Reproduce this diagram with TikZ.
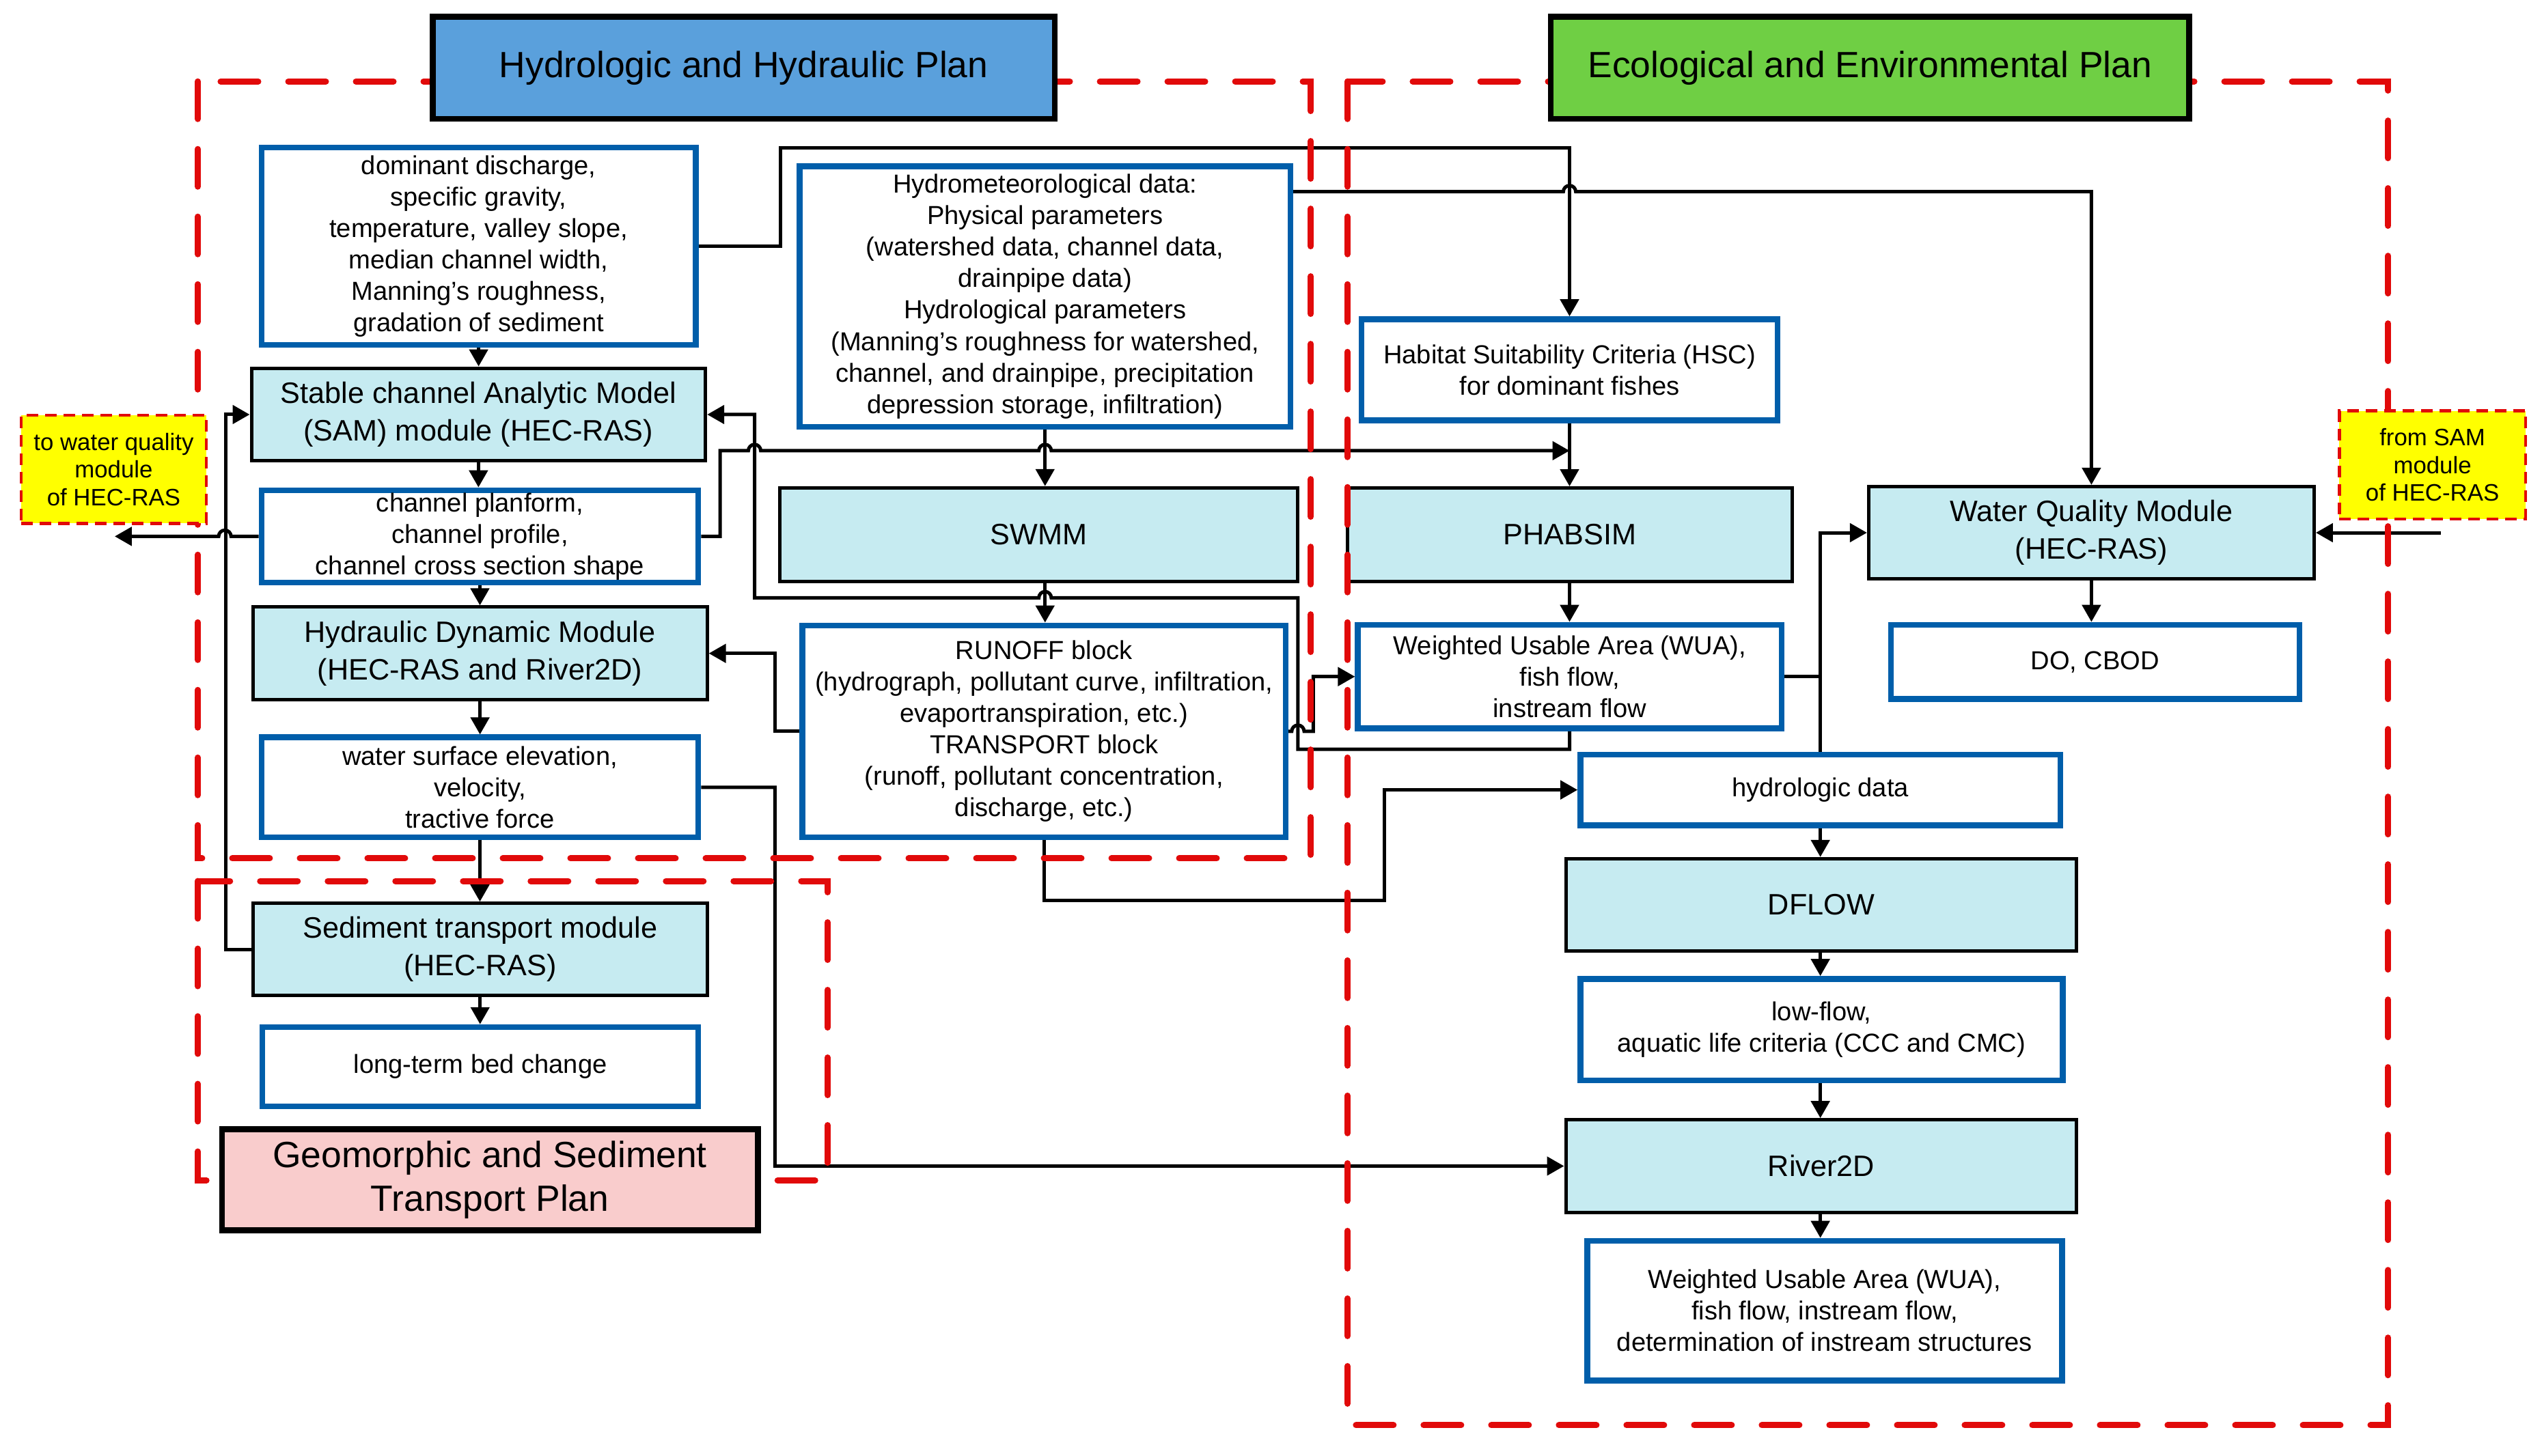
\documentclass[tikz,border=0pt]{standalone}
\usepackage{fontspec}
\setmainfont{Liberation Sans}
\usetikzlibrary{arrows.meta}
\definecolor{bblue}{HTML}{005EAA}
\definecolor{cyanf}{HTML}{C6EBF1}
\definecolor{tblue}{HTML}{5AA0DC}
\definecolor{tgreen}{HTML}{6FCF44}
\definecolor{tpink}{HTML}{F9CCCC}
\definecolor{redd}{HTML}{E10A0A}
\definecolor{ylw}{HTML}{FFFF00}
\newcommand\mybox[7]{%
  \pgfmathsetmacro\bw{(#5-#3)*0.02385}%
  \pgfmathsetmacro\bh{(#6-#4)*0.02385}%
  \node[#2, minimum width=\bw cm, minimum height=\bh cm] (#1) at ({(#3+#5)/2},{(#4+#6)/2}) {#7};}
\begin{document}
\begin{tikzpicture}[x=0.02385cm,y=-0.02385cm,
  wbox/.style={draw=bblue, line width=0.085cm, fill=white, inner sep=0pt, align=center, font=\fontsize{10.85}{13.1}\selectfont},
  cbox/.style={draw=black, line width=0.05cm, fill=cyanf, inner sep=0pt, align=center, font=\fontsize{12.3}{15.8}\selectfont},
  tbox/.style={draw=black, line width=0.085cm, inner sep=0pt, align=center, font=\fontsize{15.2}{18.3}\selectfont},
  ybox/.style={draw=redd, line width=0.045cm, dash pattern=on 0.17cm off 0.1cm, fill=ylw, inner sep=0pt, align=center, font=\fontsize{9.9}{11.5}\selectfont},
  region/.style={draw=redd, line width=0.09cm, dash pattern=on 0.55cm off 0.44cm, line cap=round},
  myline/.style={draw=black, line width=0.05cm},
  myarr/.style={myline, -{Triangle[length=0.25cm,width=0.27cm]}}
]
\useasboundingbox (0,0) rectangle (1560.17,893.5);

% left column
\mybox{dom}{wbox}{160.5}{90.5}{427}{211.8}{dominant discharge,\\specific gravity,\\temperature, valley slope,\\median channel width,\\Manning’s roughness,\\gradation of sediment}
\mybox{sam}{cbox}{154.3}{226}{433}{283}{Stable channel Analytic Model\\(SAM) module (HEC-RAS)}
\mybox{plan}{wbox}{160.5}{301}{428.6}{357.6}{channel planform,\\channel profile,\\channel cross section shape}
\mybox{hyd}{cbox}{155.2}{372.7}{434}{429.6}{Hydraulic Dynamic Module\\(HEC-RAS and River2D)}
\mybox{ws}{wbox}{160.5}{452.7}{428.6}{514}{water surface elevation,\\velocity,\\tractive force}
\mybox{sed}{cbox}{155.3}{554.6}{434}{611}{Sediment transport module\\(HEC-RAS)}
\mybox{ltb}{wbox}{161}{630.6}{428.6}{679.2}{long-term bed change}

% middle column
\mybox{hm}{wbox}{490.8}{102}{792}{262}{Hydrometeorological data:\\Physical parameters\\(watershed data, channel data,\\drainpipe data)\\Hydrological parameters\\(Manning’s roughness for watershed,\\channel, and drainpipe, precipitation\\depression storage, infiltration)}
\mybox{swmm}{cbox}{478.7}{299.5}{796.6}{357}{SWMM}
\mybox{runoff}{wbox}{492.5}{384}{789}{514}{RUNOFF block\\(hydrograph, pollutant curve, infiltration,\\evaportranspiration, etc.)\\TRANSPORT block\\(runoff, pollutant concentration,\\discharge, etc.)}

% ecological column
\mybox{hsc}{wbox}{835.7}{196}{1090.9}{258}{Habitat Suitability Criteria (HSC)\\for dominant fishes}
\mybox{phab}{cbox}{827.2}{299.6}{1099.9}{357}{PHABSIM}
\mybox{wua}{wbox}{833.4}{383.6}{1093.4}{447.2}{Weighted Usable Area (WUA),\\fish flow,\\instream flow}
\mybox{wq}{cbox}{1146.9}{298.7}{1420.3}{355.4}{Water Quality Module\\(HEC-RAS)}
\mybox{do}{wbox}{1160.5}{383.6}{1411.2}{429.1}{DO, CBOD}
\mybox{hdat}{wbox}{970}{463.3}{1264.5}{506.6}{hydrologic data}
\mybox{dflow}{cbox}{961}{527.2}{1274.5}{583.9}{DFLOW}
\mybox{low}{wbox}{970}{601}{1266}{663.2}{low-flow,\\aquatic life criteria (CCC and CMC)}
\mybox{rtd}{cbox}{961}{687.5}{1274.5}{744.3}{River2D}
\mybox{wuab}{wbox}{974.3}{761.8}{1265.5}{847.5}{Weighted Usable Area (WUA),\\fish flow, instream flow,\\determination of instream structures}

\coordinate (outl) at (70.4,329.3);
\coordinate (insam) at (1498,327.05);

% vertical chains
\draw[myarr] (dom.south) -- (dom.south |- sam.north);
\draw[myarr] (sam.south) -- (sam.south |- plan.north);
\draw[myarr] (plan.south) -- (plan.south |- hyd.north);
\draw[myarr] (hyd.south) -- (hyd.south |- ws.north);
\draw[myarr] (ws.south) -- (ws.south |- sed.north);
\draw[myarr] (sed.south) -- (sed.south |- ltb.north);
\draw[myarr] (hm.south) -- (hm.south |- swmm.north);
\draw[myarr] (hm.south |- swmm.south) -- (hm.south |- runoff.north);
\draw[myarr] (hsc.south) -- (hsc.south |- phab.north);
\draw[myarr] (hsc.south |- phab.south) -- (hsc.south |- wua.north);
\draw[myarr] (wq.south) -- (wq.south |- do.north);
\draw[myarr] (hdat.south) -- (hdat.south |- dflow.north);
\draw[myarr] (hdat.south |- dflow.south) -- (hdat.south |- low.north);
\draw[myarr] (hdat.south |- low.south) -- (hdat.south |- rtd.north);
\draw[myarr] (hdat.south |- rtd.south) -- (hdat.south |- wuab.north);

% routed connectors
\draw[myarr] (dom.east) -- (479.1,151.15) -- (479.1,90.8) -- (hsc.north |- 0,90.8) -- (hsc.north);
\draw[myarr] (hm.east |- 0,117.7) -- (959.5,117.7) arc[start angle=180,end angle=0,radius=0.0906cm] -- (wq.north |- 0,117.7) -- (wq.north);
\draw[myarr] (plan.east) -- (442,329.3) -- (442,276.7) -- (459.3,276.7) arc[start angle=180,end angle=0,radius=0.0906cm] -- (637.6,276.7) arc[start angle=180,end angle=0,radius=0.0906cm] -- (hsc.south |- 0,276.7);
\draw[myarr] (plan.west) -- (141.8,329.3) arc[start angle=0,end angle=180,radius=0.0906cm] -- (outl);
\draw[myarr] (sed.west) -- (138.4,582.8) -- (138.4,254.5) -- (sam.west);
\draw[myarr] (wua.south) -- (wua.south |- 0,460) -- (796.6,460) -- (796.6,367) -- (645.2,367) arc[start angle=0,end angle=180,radius=0.0906cm] -- (463.1,367) -- (463.1,254.5) -- (sam.east);
\draw[myarr] (runoff.east) -- (792.8,449) arc[start angle=180,end angle=0,radius=0.0906cm] -- (806,449) -- (806,415.4) -- (wua.west);
\draw[myarr] (runoff.west) -- (475.6,449) -- (475.6,401.15) -- (hyd.east);
\draw[myarr] (ws.east) -- (475.6,483.35) -- (475.6,715.9) -- (rtd.west);
\draw[myarr] (runoff.south) -- (runoff.south |- 0,553) -- (849.7,553) -- (849.7,484.95) -- (hdat.west);
\draw[myarr] (hdat.north) -- (hdat.north |- wq.west) -- (wq.west);
\draw[myline] (wua.east) -- (hdat.north |- wua.east);
\draw[myarr] (insam) -- (wq.east);

% red dashed regions
\draw[region] (121.4,50) rectangle (804.5,527);
\draw[region] (121.4,540.9) rectangle (507.9,724.7);
\draw[region] (827,50) rectangle (1465.7,875);

% titles and notes
\mybox{thh}{tbox,fill=tblue}{265.6}{10.3}{647.4}{73}{Hydrologic and Hydraulic Plan}
\mybox{tee}{tbox,fill=tgreen}{951.8}{10.3}{1343.6}{73}{Ecological and Environmental Plan}
\mybox{tgs}{tbox,fill=tpink}{136.3}{693.2}{465.1}{755.4}{Geomorphic and Sediment\\Transport Plan}
\mybox{ytw}{ybox}{13}{255}{126.6}{321.3}{to water quality\\module\\of HEC-RAS}
\mybox{ysm}{ybox}{1435.8}{252.3}{1550}{318.7}{from SAM\\module\\of HEC-RAS}
\end{tikzpicture}
\end{document}
